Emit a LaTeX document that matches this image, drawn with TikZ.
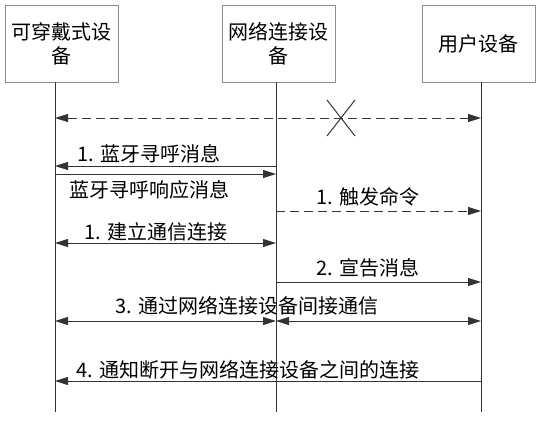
\documentclass[tikz,border=0pt]{standalone}
\usepackage{fontspec}
\setmainfont{Noto Sans CJK SC}
\usetikzlibrary{arrows.meta, positioning}

\begin{document}
\begin{tikzpicture}[x=1pt, y=-1pt, >={Triangle[length=13pt,width=8pt]}, line width=1pt,
    device/.style={draw=black!45, minimum width=113pt, minimum height=77pt, inner sep=0pt, align=center, font=\fontsize{20}{24}\selectfont},
    msg/.style={draw=black!80, line width=1pt},
    lbl/.style={inner sep=0pt, font=\fontsize{20}{24}\selectfont}]
    \useasboundingbox (0,0) rectangle (542,423);

    % devices
    \node[device] (wear) at (61.5,43.5) {可穿戴式设\\备};
    \node[device] (net)  at (278.5,43.5) {网络连接设\\备};
    \node[device] (user) at (478.5,43.5) {用户设备};

    % lifelines
    \coordinate (wl) at (55,82);
    \coordinate (nl) at (276,82);
    \coordinate (ul) at (481,82);
    \draw[msg] (wl) -- ++(0,330) coordinate (wlEnd);
    \draw[msg] (nl) -- ++(0,330) coordinate (nlEnd);
    \draw[msg] (ul) -- ++(0,330) coordinate (ulEnd);

    % broken link
    \draw[msg, <->, dashed, dash pattern=on 9pt off 5pt] (wl |- 0,118) -- (ul |- 0,118);
    \coordinate (cut) at (341,118);
    \draw[msg] (cut) +(-14,-18) -- +(14,18);
    \draw[msg] (cut) +(14,-18) -- +(-14,18);

    % messages
    \draw[msg, ->] (nl |- 0,166) -- (wl |- 0,166);
    \node[lbl] (page) at (149,154) {1. 蓝牙寻呼消息};
    \draw[msg, ->] (wl |- 0,174) -- (nl |- 0,174);
    \node[lbl] (pageResp) at (150,190) {蓝牙寻呼响应消息};
    \draw[msg, ->, dashed, dash pattern=on 9pt off 5pt] (nl |- 0,211) -- (ul |- 0,211);
    \node[lbl] (trigger) at (368,197) {1. 触发命令};
    \draw[msg, <->] (wl |- 0,243) -- (nl |- 0,243);
    \node[lbl] (setup) at (156,232) {1. 建立通信连接};
    \draw[msg, ->] (nl |- 0,282) -- (ul |- 0,282);
    \node[lbl] (announce) at (368,268) {2. 宣告消息};
    \draw[msg, <->] (wl |- 0,321) -- (nl |- 0,321);
    \draw[msg, <->] (nl |- 0,321) -- (ul |- 0,321);
    \node[lbl] (relay) at (247,306) {3. 通过网络连接设备间接通信};
    \draw[msg, ->] (ul |- 0,381) -- (wl |- 0,381);
    \node[lbl] (notify) at (248,370) {4. 通知断开与网络连接设备之间的连接};
\end{tikzpicture}
\end{document}
